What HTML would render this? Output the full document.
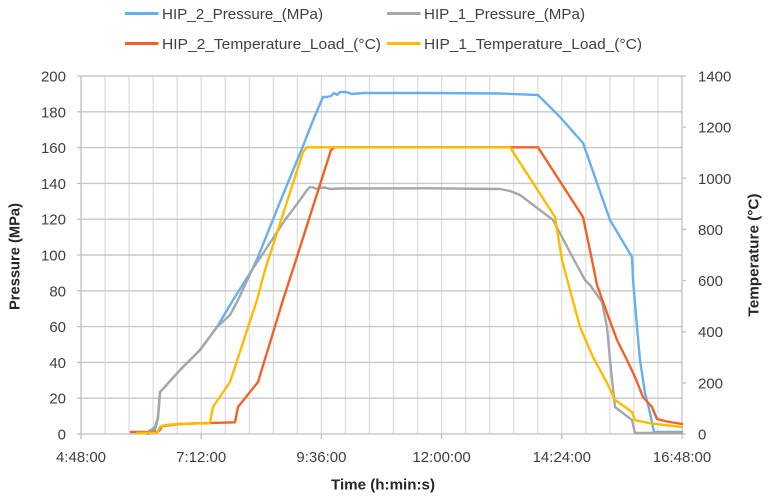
<!DOCTYPE html>
<html><head><meta charset="utf-8"><style>
html,body{margin:0;padding:0;background:#fff;}
svg{display:block;}
text{font-family:"Liberation Sans",Arial,sans-serif;}
</style></head><body>
<svg width="768" height="498" viewBox="0 0 768 498" xmlns="http://www.w3.org/2000/svg">
<rect width="768" height="498" fill="#fff"/>
<!-- vertical minor gridlines -->
<g stroke="#dcdcdc" stroke-width="1.2">
<line x1="105.04" y1="76" x2="105.04" y2="434"/><line x1="129.08" y1="76" x2="129.08" y2="434"/><line x1="153.12" y1="76" x2="153.12" y2="434"/><line x1="177.16" y1="76" x2="177.16" y2="434"/><line x1="201.2" y1="76" x2="201.2" y2="434"/>
<line x1="225.24" y1="76" x2="225.24" y2="434"/><line x1="249.28" y1="76" x2="249.28" y2="434"/><line x1="273.32" y1="76" x2="273.32" y2="434"/><line x1="297.36" y1="76" x2="297.36" y2="434"/><line x1="321.4" y1="76" x2="321.4" y2="434"/>
<line x1="345.44" y1="76" x2="345.44" y2="434"/><line x1="369.48" y1="76" x2="369.48" y2="434"/><line x1="393.52" y1="76" x2="393.52" y2="434"/><line x1="417.56" y1="76" x2="417.56" y2="434"/><line x1="441.6" y1="76" x2="441.6" y2="434"/>
<line x1="465.64" y1="76" x2="465.64" y2="434"/><line x1="489.68" y1="76" x2="489.68" y2="434"/><line x1="513.72" y1="76" x2="513.72" y2="434"/><line x1="537.76" y1="76" x2="537.76" y2="434"/><line x1="561.8" y1="76" x2="561.8" y2="434"/>
<line x1="585.84" y1="76" x2="585.84" y2="434"/><line x1="609.88" y1="76" x2="609.88" y2="434"/><line x1="633.92" y1="76" x2="633.92" y2="434"/><line x1="657.96" y1="76" x2="657.96" y2="434"/>
</g>
<!-- horizontal gridlines -->
<g stroke="#c8c8c8" stroke-width="1.4">
<line x1="81" y1="76" x2="682" y2="76"/><line x1="81" y1="111.8" x2="682" y2="111.8"/><line x1="81" y1="147.6" x2="682" y2="147.6"/><line x1="81" y1="183.4" x2="682" y2="183.4"/><line x1="81" y1="219.2" x2="682" y2="219.2"/>
<line x1="81" y1="255" x2="682" y2="255"/><line x1="81" y1="290.8" x2="682" y2="290.8"/><line x1="81" y1="326.6" x2="682" y2="326.6"/><line x1="81" y1="362.4" x2="682" y2="362.4"/><line x1="81" y1="398.2" x2="682" y2="398.2"/>
</g>
<!-- axes -->
<g stroke="#bfbfbf" stroke-width="1.3">
<line x1="81" y1="76" x2="81" y2="434"/>
<line x1="682" y1="76" x2="682" y2="434"/>
<line x1="77" y1="434" x2="686" y2="434"/>
<line x1="77" y1="76" x2="81" y2="76"/><line x1="77" y1="111.8" x2="81" y2="111.8"/><line x1="77" y1="147.6" x2="81" y2="147.6"/><line x1="77" y1="183.4" x2="81" y2="183.4"/><line x1="77" y1="219.2" x2="81" y2="219.2"/><line x1="77" y1="255" x2="81" y2="255"/><line x1="77" y1="290.8" x2="81" y2="290.8"/><line x1="77" y1="326.6" x2="81" y2="326.6"/><line x1="77" y1="362.4" x2="81" y2="362.4"/><line x1="77" y1="398.2" x2="81" y2="398.2"/>
<line x1="682" y1="76" x2="686" y2="76"/><line x1="682" y1="127.1" x2="686" y2="127.1"/><line x1="682" y1="178.3" x2="686" y2="178.3"/><line x1="682" y1="229.4" x2="686" y2="229.4"/><line x1="682" y1="280.6" x2="686" y2="280.6"/><line x1="682" y1="331.7" x2="686" y2="331.7"/><line x1="682" y1="382.9" x2="686" y2="382.9"/>
<line x1="81" y1="434" x2="81" y2="439"/><line x1="201.2" y1="434" x2="201.2" y2="439"/><line x1="321.4" y1="434" x2="321.4" y2="439"/><line x1="441.6" y1="434" x2="441.6" y2="439"/><line x1="561.8" y1="434" x2="561.8" y2="439"/><line x1="682" y1="434" x2="682" y2="439"/>
</g>
<!-- series -->
<g fill="none" stroke-width="2.4" stroke-linejoin="round" stroke-linecap="round">
<polyline stroke="#66b0f2" points="148,434 155,430 158,418 160,392 162,390 180,370 200,350 217,327 233,300 252,270 258,257 280,202 303,146 314,118 323,97 327,97 331,96 334,93 337,95 340,92 346,92 352,94 363,93 430,93 500,93.5 538,95 560,117 583,143 597,183 610,220 632,257 633,280 637,327 640,360 645,393 650,413 654,432 682,432"/>
<polyline stroke="#a5a8a8" points="148,432 155,427 158,417 160,392 162,390 180,370 200,350 217,327 230,315 238,300 252,270 262,255 285,220 300,200 307,190 310,187 313,187.5 317,189 320,188 325,187.5 330,189 340,188.5 430,188.3 500,189 510,191 520,195 553,220 573,258 585,280 590,285 602,302 607,327 610,360 615,407 632,420 635,433 682,433"/>
<polyline stroke="#f0622a" points="131,432 157,432 160,430 162,426 180,424 200,423.3 235,422.3 238,407 258,382 283,300 295,263 331,150 335,147.3 538,147.3 583,217 592,260 597,285 607,313 617,340 627,360 635,377 643,397 652,407 657,419 667,421.5 682,424"/>
<polyline stroke="#ffbb00" points="137,433 157,432.7 160,427 165,425 180,424 210,422.7 213,407 230,382 257,300 265,270 303,152 307,147.3 510,147.3 555,217 562,260 570,290 580,327 593,357 607,383 615,400 625,407 632,412 635,420 650,423.3 682,427"/>
</g>
<!-- left tick labels -->
<g font-size="15" fill="#404040" text-anchor="end">
<text x="66" y="81.5">200</text><text x="66" y="117.3">180</text><text x="66" y="153.1">160</text><text x="66" y="188.9">140</text><text x="66" y="224.7">120</text>
<text x="66" y="260.5">100</text><text x="66" y="296.3">80</text><text x="66" y="332.1">60</text><text x="66" y="367.9">40</text><text x="66" y="403.7">20</text><text x="66" y="439.5">0</text>
</g>
<!-- right tick labels -->
<g font-size="15" fill="#404040" text-anchor="start">
<text x="698" y="81.5">1400</text><text x="698" y="132.6">1200</text><text x="698" y="183.8">1000</text><text x="698" y="234.9">800</text>
<text x="698" y="286.1">600</text><text x="698" y="337.2">400</text><text x="698" y="388.4">200</text><text x="698" y="439.5">0</text>
</g>
<!-- x tick labels -->
<g font-size="15" fill="#404040" text-anchor="middle">
<text x="81" y="462">4:48:00</text><text x="201.2" y="462">7:12:00</text><text x="321.4" y="462">9:36:00</text>
<text x="441.6" y="462">12:00:00</text><text x="561.8" y="462">14:24:00</text><text x="682" y="462">16:48:00</text>
</g>
<!-- axis titles -->
<text x="383" y="489.5" font-size="15" font-weight="bold" fill="#262626" text-anchor="middle" textLength="104" lengthAdjust="spacingAndGlyphs">Time (h:min:s)</text>
<text transform="translate(19.5,256.5) rotate(-90)" x="0" y="0" font-size="15" font-weight="bold" fill="#262626" text-anchor="middle" textLength="107" lengthAdjust="spacingAndGlyphs">Pressure (MPa)</text>
<text transform="translate(758.5,255) rotate(-90)" x="0" y="0" font-size="15" font-weight="bold" fill="#262626" text-anchor="middle" textLength="123" lengthAdjust="spacingAndGlyphs">Temperature (°C)</text>
<!-- legend -->
<g stroke-width="3">
<line x1="125" y1="13.5" x2="158.5" y2="13.5" stroke="#66b0f2"/>
<line x1="387" y1="13.5" x2="420.5" y2="13.5" stroke="#a5a8a8"/>
<line x1="125" y1="43.5" x2="158.5" y2="43.5" stroke="#f0622a"/>
<line x1="387" y1="43.5" x2="420.5" y2="43.5" stroke="#ffbb00"/>
</g>
<g font-size="15" fill="#404040">
<text x="162" y="19" textLength="161" lengthAdjust="spacingAndGlyphs">HIP_2_Pressure_(MPa)</text>
<text x="424" y="19" textLength="161" lengthAdjust="spacingAndGlyphs">HIP_1_Pressure_(MPa)</text>
<text x="162" y="49" textLength="219" lengthAdjust="spacingAndGlyphs">HIP_2_Temperature_Load_(°C)</text>
<text x="424" y="49" textLength="218" lengthAdjust="spacingAndGlyphs">HIP_1_Temperature_Load_(°C)</text>
</g>
</svg>
</body></html>
